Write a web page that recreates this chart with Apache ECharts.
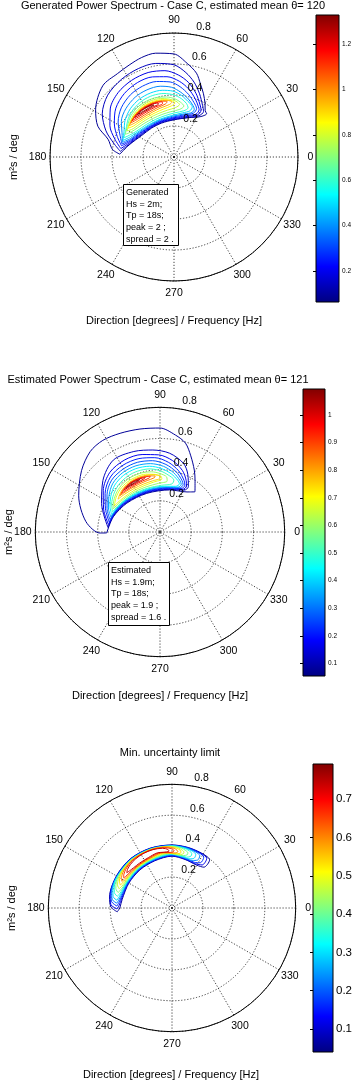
<!DOCTYPE html>
<html><head><meta charset="utf-8">
<script src="https://cdn.jsdelivr.net/npm/echarts/dist/echarts.min.js"></script>
<style>html,body{margin:0;padding:0;background:#fff}#c{width:355px;height:1083px}</style>
</head><body><div id="c"></div>
<script>
// ---------------- text ----------------
const titles = ['Generated Power Spectrum - Case C, estimated mean \u03b8= 120',
                'Estimated Power Spectrum - Case C, estimated mean \u03b8= 121',
                'Min. uncertainty limit'];
const xLabel = 'Direction [degrees] / Frequency [Hz]';
const yLabel = 'm\u00b2s / deg';
const angleTicks = [0, 30, 60, 90, 120, 150, 180, 210, 240, 270, 300, 330];
const radiusTicks = [0.2, 0.4, 0.6, 0.8];
const boxGen = ['Generated', 'Hs = 2m;', 'Tp = 18s;', 'peak = 2 ;', 'spread = 2 .'];
const boxEst = ['Estimated', 'Hs = 1.9m;', 'Tp = 18s;', 'peak = 1.9 ;', 'spread = 1.6 .'];

// ---------------- colorbars ----------------
const cbGenRange = [0.063, 1.329];
const cbGenTicks = [0.2, 0.4, 0.6, 0.8, 1, 1.2];
const cbEstRange = [0.055, 1.094];
const cbEstTicks = [0.1, 0.2, 0.3, 0.4, 0.5, 0.6, 0.7, 0.8, 0.9, 1];
const cbMinRange = [0.04, 0.792];
const cbMinTicks = [0.1, 0.2, 0.3, 0.4, 0.5, 0.6, 0.7];

// ---------------- contours: [radius(Hz), angle(deg)] ----------------
const genLevels = [0.09,0.14,0.19,0.24,0.30,0.39,0.49,0.59,0.70,0.78,0.86,0.95,1.05,1.14,1.23,1.30];
const genContours = [
 [[0.35,177],[0.40,173],[0.44,165],[0.53,158],[0.59,149],[0.65,135],[0.65,124],[0.66,116],[0.675,108],[0.68,100],[0.665,90],[0.61,82],[0.56,75],[0.50,70],[0.45,65],[0.40,60],[0.36,56],[0.35,53],[0.31,57],[0.27,70],[0.24,90],[0.233,110],[0.236,128],[0.25,146],[0.30,165]],
 [[0.348,174],[0.40,167],[0.47,159],[0.54,149],[0.585,137],[0.605,124],[0.615,112],[0.615,101],[0.595,90],[0.55,82],[0.50,75],[0.44,68],[0.38,61],[0.35,57],[0.31,59],[0.27,71],[0.243,90],[0.237,110],[0.24,128],[0.255,146],[0.30,164]],
 [[0.347,171],[0.40,163],[0.46,154],[0.515,143],[0.55,131],[0.565,119],[0.57,107],[0.56,96],[0.53,87],[0.49,79],[0.435,71],[0.38,64],[0.35,60],[0.31,61],[0.275,72],[0.248,90],[0.241,110],[0.244,128],[0.26,146],[0.30,162]],
 [[0.346,168],[0.39,160],[0.44,151],[0.49,140],[0.52,128],[0.535,116],[0.535,105],[0.52,95],[0.49,86],[0.45,78],[0.40,70],[0.36,64],[0.345,62],[0.31,63],[0.28,73],[0.253,90],[0.245,110],[0.248,128],[0.265,145],[0.30,160]],
 [[0.346,166],[0.38,157],[0.425,148],[0.465,137],[0.49,125],[0.50,114],[0.50,103],[0.485,93],[0.455,85],[0.415,77],[0.375,70],[0.345,65],[0.31,66],[0.283,75],[0.258,91],[0.25,110],[0.252,128],[0.27,145],[0.30,158]],
 [[0.346,164],[0.37,155],[0.41,146],[0.44,135],[0.46,123],[0.467,112],[0.465,101],[0.45,92],[0.42,84],[0.385,76],[0.355,70],[0.335,67],[0.31,68],[0.287,76],[0.263,92],[0.255,110],[0.258,128],[0.275,144],[0.305,157]],
 [[0.346,162],[0.362,153],[0.395,143],[0.42,132],[0.435,121],[0.44,110],[0.437,100],[0.425,91],[0.40,83],[0.37,76],[0.345,70],[0.315,71],[0.29,79],[0.268,93],[0.26,110],[0.263,127],[0.28,143],[0.31,155]],
 [[0.346,159],[0.358,150],[0.385,140],[0.405,130],[0.417,119],[0.42,109],[0.415,99],[0.40,90],[0.38,83],[0.355,77],[0.33,74],[0.305,78],[0.285,89],[0.273,102],[0.27,116],[0.275,130],[0.295,146],[0.32,154]],
 [[0.347,155],[0.362,146],[0.385,136],[0.398,126],[0.402,116],[0.40,106],[0.39,97],[0.375,89],[0.355,83],[0.335,79],[0.31,83],[0.293,94],[0.285,106],[0.283,118],[0.29,132],[0.31,146],[0.33,152]],
 [[0.348,151],[0.362,142],[0.38,132],[0.39,122],[0.392,112],[0.387,103],[0.375,95],[0.36,88],[0.34,84],[0.32,88],[0.305,98],[0.298,110],[0.298,122],[0.305,134],[0.32,145],[0.335,149]],
 [[0.35,148],[0.364,139],[0.377,129],[0.383,119],[0.383,110],[0.377,101],[0.365,93],[0.348,89],[0.33,93],[0.317,102],[0.31,113],[0.31,124],[0.318,135],[0.33,143]],
 [[0.352,145],[0.365,136],[0.375,126],[0.378,116],[0.376,106],[0.368,97],[0.355,92],[0.34,95],[0.328,105],[0.321,116],[0.322,127],[0.333,138]],
 [[0.355,142],[0.368,133],[0.374,123],[0.374,112],[0.369,103],[0.36,97],[0.347,99],[0.336,108],[0.331,119],[0.335,131]],
 [[0.357,139],[0.368,130],[0.371,120],[0.37,110],[0.364,102],[0.354,102],[0.344,111],[0.341,122],[0.346,132]],
 [[0.359,135],[0.367,127],[0.368,117],[0.365,108],[0.357,106],[0.35,114],[0.349,124],[0.353,131]],
 [[0.361,131],[0.365,123],[0.364,114],[0.359,111],[0.355,118],[0.356,126]]
];

const estLevels = [0.08,0.12,0.17,0.22,0.27,0.35,0.43,0.51,0.60,0.68,0.75,0.83,0.92,1.00,1.07];
const estContours = [
 [[0.342,181],[0.385,181],[0.48,172],[0.571,156],[0.639,142],[0.683,131],[0.693,122],[0.683,112],[0.673,101],[0.667,90],[0.63,81],[0.593,74],[0.527,68],[0.454,61],[0.402,56],[0.342,49],[0.31,56],[0.277,77],[0.262,109],[0.282,139],[0.315,162]],
 [[0.335,175],[0.417,154],[0.493,138],[0.55,123],[0.543,108],[0.528,95],[0.509,83],[0.465,71],[0.408,64],[0.343,58],[0.31,60],[0.28,78],[0.266,108],[0.285,138],[0.315,160]],
 [[0.333,172],[0.39,158],[0.45,144],[0.50,130],[0.515,116],[0.51,103],[0.495,91],[0.465,80],[0.42,70],[0.37,63],[0.34,60],[0.31,62],[0.283,79],[0.27,108],[0.288,138],[0.315,158]],
 [[0.332,169],[0.38,157],[0.43,145],[0.475,132],[0.49,119],[0.49,106],[0.478,94],[0.45,83],[0.41,73],[0.365,65],[0.34,62],[0.31,64],[0.286,80],[0.274,108],[0.291,137],[0.315,156]],
 [[0.331,166],[0.372,156],[0.415,145],[0.455,133],[0.468,120],[0.47,108],[0.46,96],[0.435,85],[0.40,75],[0.36,67],[0.338,64],[0.31,66],[0.289,81],[0.278,108],[0.294,136],[0.315,154]],
 [[0.33,163],[0.365,155],[0.40,145],[0.435,134],[0.45,122],[0.452,110],[0.443,98],[0.422,87],[0.39,77],[0.355,69],[0.335,66],[0.31,68],[0.292,82],[0.282,108],[0.297,135],[0.315,152]],
 [[0.33,160],[0.36,153],[0.39,144],[0.418,134],[0.432,123],[0.435,111],[0.427,99],[0.408,89],[0.38,79],[0.35,71],[0.333,68],[0.31,71],[0.295,84],[0.287,108],[0.30,134],[0.315,150]],
 [[0.332,157],[0.358,150],[0.383,141],[0.403,131],[0.414,120],[0.416,110],[0.41,99],[0.393,90],[0.37,82],[0.345,75],[0.318,76],[0.30,88],[0.292,106],[0.297,124],[0.31,142]],
 [[0.335,154],[0.358,146],[0.378,137],[0.392,127],[0.398,117],[0.397,107],[0.39,98],[0.375,90],[0.355,83],[0.33,82],[0.312,92],[0.303,106],[0.304,121],[0.315,138]],
 [[0.338,150],[0.358,142],[0.374,133],[0.383,123],[0.385,113],[0.382,104],[0.372,96],[0.358,89],[0.34,88],[0.323,97],[0.314,109],[0.314,122],[0.322,137]],
 [[0.342,142],[0.36,134],[0.372,125],[0.377,115],[0.376,106],[0.37,97],[0.358,90],[0.345,90],[0.332,98],[0.325,109],[0.325,121],[0.332,133]],
 [[0.347,138],[0.362,130],[0.37,121],[0.372,111],[0.368,102],[0.36,95],[0.35,96],[0.34,104],[0.335,114],[0.337,126]],
 [[0.35,135],[0.363,127],[0.369,118],[0.368,108],[0.363,100],[0.354,101],[0.346,109],[0.343,120]],
 [[0.354,131],[0.365,123],[0.366,113],[0.362,105],[0.356,107],[0.35,115],[0.351,124]],
 [[0.357,127],[0.362,119],[0.361,111],[0.357,113],[0.355,120]]
];

const minLevels = [0.06,0.12,0.17,0.23,0.29,0.35,0.41,0.47,0.53,0.60,0.66,0.74];
const minContours = [
 [[0.355,184],[0.395,179],[0.41,170],[0.415,150],[0.417,130],[0.412,110],[0.408,90],[0.405,75],[0.403,60],[0.395,52],[0.335,52],[0.32,60],[0.325,75],[0.335,90],[0.325,110],[0.322,130],[0.322,150],[0.327,170],[0.338,180]],
 [[0.356,181],[0.395,177],[0.408,169],[0.413,150],[0.415,130],[0.41,110],[0.406,90],[0.403,75],[0.40,62],[0.392,55],[0.34,55],[0.324,62],[0.328,75],[0.338,90],[0.328,110],[0.325,130],[0.325,150],[0.33,168],[0.342,177]],
 [[0.357,178],[0.393,174],[0.406,167],[0.412,150],[0.414,130],[0.409,110],[0.405,90],[0.401,75],[0.397,64],[0.388,58],[0.345,58],[0.329,64],[0.331,76],[0.341,90],[0.331,110],[0.328,130],[0.328,150],[0.333,166],[0.345,174]],
 [[0.358,175],[0.39,172],[0.404,165],[0.41,150],[0.412,130],[0.407,110],[0.403,90],[0.399,76],[0.393,67],[0.383,62],[0.35,62],[0.334,67],[0.335,77],[0.344,90],[0.334,110],[0.331,130],[0.331,150],[0.336,164],[0.347,171]],
 [[0.36,172],[0.388,169],[0.402,162],[0.409,150],[0.411,130],[0.406,110],[0.402,90],[0.397,77],[0.39,70],[0.378,66],[0.353,66],[0.338,70],[0.338,78],[0.347,90],[0.337,110],[0.334,130],[0.334,150],[0.339,162],[0.349,168]],
 [[0.362,168],[0.386,165],[0.40,159],[0.407,148],[0.41,130],[0.405,110],[0.401,90],[0.395,79],[0.386,73],[0.374,70],[0.356,70],[0.342,74],[0.342,80],[0.35,90],[0.34,110],[0.337,130],[0.337,148],[0.342,159],[0.351,165]],
 [[0.363,164],[0.384,161],[0.398,155],[0.405,146],[0.408,130],[0.404,110],[0.399,90],[0.392,81],[0.383,77],[0.372,74],[0.358,74],[0.346,78],[0.345,83],[0.353,92],[0.343,110],[0.34,130],[0.34,146],[0.345,156],[0.353,161]],
 [[0.364,160],[0.383,157],[0.396,151],[0.403,143],[0.407,130],[0.403,110],[0.398,92],[0.39,84],[0.38,80],[0.37,78],[0.36,78],[0.35,81],[0.349,86],[0.356,94],[0.346,110],[0.343,130],[0.344,143],[0.348,152],[0.355,157]],
 [[0.366,156],[0.382,153],[0.394,148],[0.401,140],[0.405,128],[0.402,110],[0.397,93],[0.388,86],[0.378,82],[0.368,81],[0.36,81],[0.353,85],[0.353,90],[0.359,97],[0.349,112],[0.346,128],[0.347,140],[0.351,148],[0.358,153]],
 [[0.367,152],[0.381,149],[0.392,144],[0.399,137],[0.403,126],[0.401,110],[0.396,95],[0.386,88],[0.375,85],[0.365,84],[0.357,87],[0.357,93],[0.362,99],[0.352,113],[0.349,126],[0.35,137],[0.354,144],[0.36,149]],
 [[0.369,148],[0.38,145],[0.39,140],[0.397,133],[0.401,123],[0.40,110],[0.394,97],[0.384,91],[0.372,88],[0.362,89],[0.36,95],[0.365,101],[0.356,114],[0.353,124],[0.354,134],[0.358,141],[0.363,146]],
 [[0.371,142],[0.381,139],[0.389,134],[0.395,127],[0.398,118],[0.397,108],[0.391,99],[0.38,94],[0.368,93],[0.365,99],[0.369,105],[0.36,115],[0.358,126],[0.36,134],[0.365,139]]
];

// ---------------- layout (positions / styles) ----------------
const FONT = '"Liberation Sans", Arial, sans-serif';
const panels = [
  {cx:174, cy:157, R:124,   titleX:173, titleY:6,     xlabX:174, xlabY:321,  ylabX:14, cb:{x:316, y:15,  w:23, h:287, fs:6.5, m:3},
   contours:genContours, levels:genLevels, range:cbGenRange, ticks:cbGenTicks, box:{lines:boxGen, x:123.5, y:184.5, w:55, h:61, ty:186.5}},
  {cx:160, cy:532, R:124.7, titleX:158, titleY:380,   xlabX:160, xlabY:696,  ylabX:9,  cb:{x:303, y:389, w:22, h:287, fs:6.5, m:3},
   contours:estContours, levels:estLevels, range:cbEstRange, ticks:cbEstTicks, box:{lines:boxEst, x:108.5, y:562.5, w:61, h:63, ty:564.5}},
  {cx:172, cy:908, R:123.7, titleX:170, titleY:752.5, xlabX:171, xlabY:1075, ylabX:12, cb:{x:313, y:764, w:24, h:288, fs:11.5, m:3},
   contours:minContours, levels:minLevels, range:cbMinRange, ticks:cbMinTicks, box:null}
];
const RMAX = 0.8;
const RLABEL_ANGLE = 82;
const ALABEL_FACTOR = 1.1;

function jet(t) {
  t = Math.max(0, Math.min(1, t));
  const c = v => Math.round(255 * Math.max(0, Math.min(1, v)));
  return 'rgb(' + c(1.5 - Math.abs(4*t - 3)) + ',' + c(1.5 - Math.abs(4*t - 2)) + ',' + c(1.5 - Math.abs(4*t - 1)) + ')';
}
const jetStops = [];
for (let i = 0; i <= 16; i++) jetStops.push({offset: i/16, color: jet(1 - i/16)});

const polar = [], angleAxis = [], radiusAxis = [], grid = [], xAxis = [], yAxis = [], series = [], graphic = [];
const gridLine = {color:'#111', width:0.8, type:[1.2,1.8]};

panels.forEach((p, i) => {
  polar.push({center:[p.cx, p.cy], radius:p.R});
  angleAxis.push({
    polarIndex:i, type:'value', min:0, max:360, interval:30, startAngle:0, clockwise:false,
    axisLine:{lineStyle:{color:'#000', width:1}},
    axisTick:{show:false}, axisLabel:{show:false},
    splitLine:{show:true, lineStyle:gridLine}
  });
  radiusAxis.push({
    polarIndex:i, type:'value', min:0, max:RMAX, interval:0.2,
    axisLine:{show:false}, axisTick:{show:false}, axisLabel:{show:false},
    splitLine:{show:true, lineStyle:gridLine}
  });
  p.contours.forEach((c, k) => {
    series.push({
      type:'line', coordinateSystem:'polar', polarIndex:i,
      data: c.concat([c[0]]), symbol:'none', smooth:0.3, silent:true, animation:false, z:3,
      lineStyle:{width:1, color: jet((p.levels[k] - p.range[0]) / (p.range[1] - p.range[0]))}
    });
  });
  series.push({
    type:'scatter', coordinateSystem:'polar', polarIndex:i, silent:true, animation:false, z:5, clip:false,
    symbolSize:1, itemStyle:{color:'rgba(0,0,0,0)', opacity:1},
    data: radiusTicks.map(t => [t, RLABEL_ANGLE]),
    label:{show:true, position:[0,0], align:'left', verticalAlign:'bottom', offset:[5.5,-1.5], opacity:1,
           color:'#000', textBorderWidth:0, fontSize:10.5, fontFamily:FONT, formatter: d => String(d.value[0])}
  });
  series.push({
    type:'scatter', coordinateSystem:'polar', polarIndex:i, silent:true, animation:false, z:5, clip:false,
    symbolSize:1, itemStyle:{color:'rgba(0,0,0,0)', opacity:1},
    data: angleTicks.map(a => [RMAX * ALABEL_FACTOR, a]),
    label:{show:true, position:'inside', align:'center', verticalAlign:'middle', opacity:1,
           color:'#000', textBorderWidth:0, fontSize:10.5, fontFamily:FONT, formatter: d => String(d.value[1])}
  });
  grid.push({left:p.cb.x, top:p.cb.y, width:p.cb.w, height:p.cb.h, show:true,
    backgroundColor:{type:'linear', x:0, y:0, x2:0, y2:1, colorStops:jetStops},
    borderColor:'#000', borderWidth:1});
  xAxis.push({gridIndex:i, type:'value', show:false, min:0, max:1});
  yAxis.push({gridIndex:i, type:'value', position:'right', min:p.range[0], max:p.range[1],
    axisLine:{show:false}, splitLine:{show:false},
    axisTick:{show:true, inside:true, length:3, lineStyle:{color:'#000'}, customValues:p.ticks},
    axisLabel:{show:true, color:'#000', fontSize:p.cb.fs, fontFamily:FONT, margin:p.cb.m, customValues:p.ticks,
               formatter: v => String(+v.toFixed(2))}
  });
  const ts = (t, size) => ({text:t, font:size + 'px ' + FONT, fill:'#000', align:'center', verticalAlign:'middle', textAlign:'center', textVerticalAlign:'middle'});
  graphic.push({type:'text', x:p.titleX, y:p.titleY, z:100, style:ts(titles[i], 11)});
  graphic.push({type:'text', x:p.xlabX, y:p.xlabY, z:100, style:ts(xLabel, 11)});
  graphic.push({type:'text', x:p.ylabX, y:p.cy, rotation:Math.PI/2, z:100, style:ts(yLabel, 11)});
  if (p.box) {
    graphic.push({type:'rect', z:100, shape:{x:p.box.x, y:p.box.y, width:p.box.w, height:p.box.h},
      style:{fill:'#fff', stroke:'#000', lineWidth:1}});
    graphic.push({type:'text', z:101, x:p.box.x + 2.5, y:p.box.ty,
      style:{text:p.box.lines.join('\n'), font:'9px ' + FONT, fill:'#000', lineHeight:11.75}});
  }
});

const chart = echarts.init(document.getElementById('c'), null, {renderer:'canvas'});
chart.setOption({
  animation:false, backgroundColor:'#fff',
  polar, angleAxis, radiusAxis, grid, xAxis, yAxis, series, graphic
});
</script></body></html>
